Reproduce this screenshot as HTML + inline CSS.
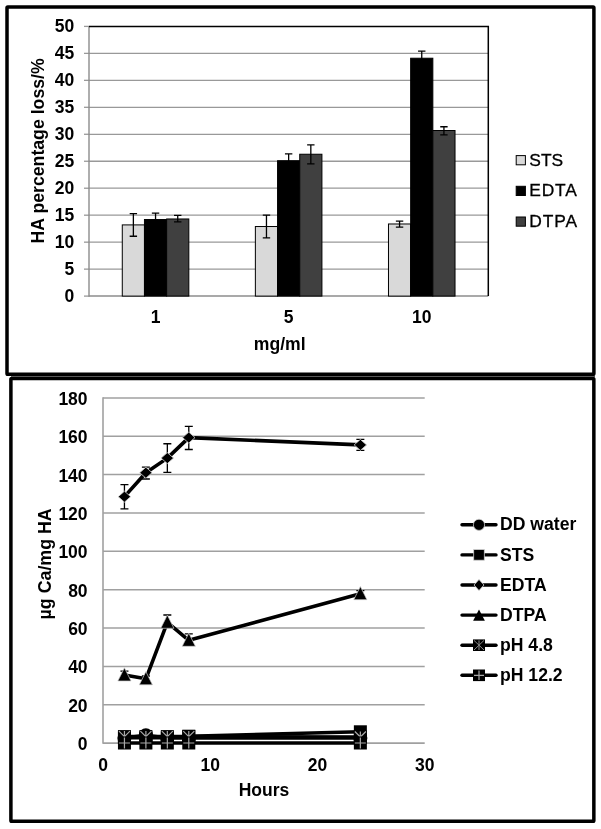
<!DOCTYPE html><html><head><meta charset="utf-8"><style>html,body{margin:0;padding:0;background:#fff;width:601px;height:829px;overflow:hidden}svg{display:block;filter:grayscale(1)}text{font-family:"Liberation Sans", sans-serif}</style></head><body>
<svg width="601" height="829" viewBox="0 0 601 829">
<rect width="601" height="829" fill="#fff"/>
<line x1="89.0" y1="269.13" x2="488.3" y2="269.13" stroke="#999999" stroke-width="1.3"/>
<line x1="89.0" y1="242.16" x2="488.3" y2="242.16" stroke="#999999" stroke-width="1.3"/>
<line x1="89.0" y1="215.19" x2="488.3" y2="215.19" stroke="#999999" stroke-width="1.3"/>
<line x1="89.0" y1="188.22" x2="488.3" y2="188.22" stroke="#999999" stroke-width="1.3"/>
<line x1="89.0" y1="161.25" x2="488.3" y2="161.25" stroke="#999999" stroke-width="1.3"/>
<line x1="89.0" y1="134.28" x2="488.3" y2="134.28" stroke="#999999" stroke-width="1.3"/>
<line x1="89.0" y1="107.31" x2="488.3" y2="107.31" stroke="#999999" stroke-width="1.3"/>
<line x1="89.0" y1="80.34" x2="488.3" y2="80.34" stroke="#999999" stroke-width="1.3"/>
<line x1="89.0" y1="53.37" x2="488.3" y2="53.37" stroke="#999999" stroke-width="1.3"/>
<line x1="84" y1="296.10" x2="89.0" y2="296.10" stroke="#999999" stroke-width="1.3"/>
<line x1="84" y1="269.13" x2="89.0" y2="269.13" stroke="#999999" stroke-width="1.3"/>
<line x1="84" y1="242.16" x2="89.0" y2="242.16" stroke="#999999" stroke-width="1.3"/>
<line x1="84" y1="215.19" x2="89.0" y2="215.19" stroke="#999999" stroke-width="1.3"/>
<line x1="84" y1="188.22" x2="89.0" y2="188.22" stroke="#999999" stroke-width="1.3"/>
<line x1="84" y1="161.25" x2="89.0" y2="161.25" stroke="#999999" stroke-width="1.3"/>
<line x1="84" y1="134.28" x2="89.0" y2="134.28" stroke="#999999" stroke-width="1.3"/>
<line x1="84" y1="107.31" x2="89.0" y2="107.31" stroke="#999999" stroke-width="1.3"/>
<line x1="84" y1="80.34" x2="89.0" y2="80.34" stroke="#999999" stroke-width="1.3"/>
<line x1="84" y1="53.37" x2="89.0" y2="53.37" stroke="#999999" stroke-width="1.3"/>
<line x1="84" y1="26.40" x2="89.0" y2="26.40" stroke="#999999" stroke-width="1.3"/>
<line x1="89.0" y1="26.40" x2="89.0" y2="296.70" stroke="#8c8c8c" stroke-width="1.4"/>
<line x1="89.0" y1="296.10" x2="488.3" y2="296.10" stroke="#8c8c8c" stroke-width="1.5"/>
<polyline points="89.0,26.40 488.3,26.40 488.3,296.10" fill="none" stroke="#000" stroke-width="1.5"/>
<rect x="122.28" y="224.90" width="22.18" height="71.20" fill="#d9d9d9" stroke="#000" stroke-width="1"/>
<rect x="144.46" y="219.51" width="22.18" height="76.59" fill="#000" stroke="#000" stroke-width="1"/>
<rect x="166.64" y="218.97" width="22.18" height="77.13" fill="#404040" stroke="#000" stroke-width="1"/>
<path d="M133.37 213.57V236.23M129.67 213.57H137.07M129.67 236.23H137.07" stroke="#000" stroke-width="1.3" fill="none"/>
<path d="M155.55 213.03V225.98M151.85 213.03H159.25M151.85 225.98H159.25" stroke="#000" stroke-width="1.3" fill="none"/>
<path d="M177.73 215.41V221.88M174.03 215.41H181.43M174.03 221.88H181.43" stroke="#000" stroke-width="1.3" fill="none"/>
<rect x="255.37" y="226.52" width="22.18" height="69.58" fill="#d9d9d9" stroke="#000" stroke-width="1"/>
<rect x="277.56" y="160.71" width="22.18" height="135.39" fill="#000" stroke="#000" stroke-width="1"/>
<rect x="299.74" y="154.24" width="22.18" height="141.86" fill="#404040" stroke="#000" stroke-width="1"/>
<path d="M266.47 215.19V237.84M262.77 215.19H270.17M262.77 237.84H270.17" stroke="#000" stroke-width="1.3" fill="none"/>
<path d="M288.65 153.97V167.45M284.95 153.97H292.35M284.95 167.45H292.35" stroke="#000" stroke-width="1.3" fill="none"/>
<path d="M310.83 144.80V163.95M307.13 144.80H314.53M307.13 163.95H314.53" stroke="#000" stroke-width="1.3" fill="none"/>
<rect x="388.48" y="223.98" width="22.18" height="72.12" fill="#d9d9d9" stroke="#000" stroke-width="1"/>
<rect x="410.66" y="58.22" width="22.18" height="237.88" fill="#000" stroke="#000" stroke-width="1"/>
<rect x="432.84" y="130.50" width="22.18" height="165.60" fill="#404040" stroke="#000" stroke-width="1"/>
<path d="M399.57 221.12V227.06M395.87 221.12H403.27M395.87 227.06H403.27" stroke="#000" stroke-width="1.3" fill="none"/>
<path d="M421.75 51.21V65.24M418.05 51.21H425.45M418.05 65.24H425.45" stroke="#000" stroke-width="1.3" fill="none"/>
<path d="M443.93 126.73V134.82M440.23 126.73H447.63M440.23 134.82H447.63" stroke="#000" stroke-width="1.3" fill="none"/>
<text x="74.2" y="301.80" font-size="17.5" font-weight="bold" text-anchor="end">0</text>
<text x="74.2" y="274.83" font-size="17.5" font-weight="bold" text-anchor="end">5</text>
<text x="74.2" y="247.86" font-size="17.5" font-weight="bold" text-anchor="end">10</text>
<text x="74.2" y="220.89" font-size="17.5" font-weight="bold" text-anchor="end">15</text>
<text x="74.2" y="193.92" font-size="17.5" font-weight="bold" text-anchor="end">20</text>
<text x="74.2" y="166.95" font-size="17.5" font-weight="bold" text-anchor="end">25</text>
<text x="74.2" y="139.98" font-size="17.5" font-weight="bold" text-anchor="end">30</text>
<text x="74.2" y="113.01" font-size="17.5" font-weight="bold" text-anchor="end">35</text>
<text x="74.2" y="86.04" font-size="17.5" font-weight="bold" text-anchor="end">40</text>
<text x="74.2" y="59.07" font-size="17.5" font-weight="bold" text-anchor="end">45</text>
<text x="74.2" y="32.10" font-size="17.5" font-weight="bold" text-anchor="end">50</text>
<text x="155.55" y="322.7" font-size="17.5" font-weight="bold" text-anchor="middle">1</text>
<text x="288.65" y="322.7" font-size="17.5" font-weight="bold" text-anchor="middle">5</text>
<text x="421.75" y="322.7" font-size="17.5" font-weight="bold" text-anchor="middle">10</text>
<text x="279.75" y="350.4" font-size="17.6" font-weight="bold" text-anchor="middle">mg/ml</text>
<text transform="translate(43.8 150.85) rotate(-90)" font-size="17.7" font-weight="bold" text-anchor="middle">HA percentage loss/%</text>
<rect x="516.2" y="155.60" width="9.2" height="9.2" fill="#d9d9d9" stroke="#000" stroke-width="1"/>
<text x="529.3" y="165.70" font-size="17.4" letter-spacing="0" stroke="#000" stroke-width="0.3">STS</text>
<rect x="516.2" y="186.30" width="9.2" height="9.2" fill="#000" stroke="#000" stroke-width="1"/>
<text x="529.3" y="196.40" font-size="17.4" letter-spacing="0.8" stroke="#000" stroke-width="0.3">EDTA</text>
<rect x="516.2" y="217.00" width="9.2" height="9.2" fill="#404040" stroke="#000" stroke-width="1"/>
<text x="529.3" y="227.10" font-size="17.4" letter-spacing="0.9" stroke="#000" stroke-width="0.3">DTPA</text>
<line x1="103.0" y1="704.74" x2="424.7" y2="704.74" stroke="#a0a0a0" stroke-width="1.5"/>
<line x1="103.0" y1="666.39" x2="424.7" y2="666.39" stroke="#a0a0a0" stroke-width="1.5"/>
<line x1="103.0" y1="628.03" x2="424.7" y2="628.03" stroke="#a0a0a0" stroke-width="1.5"/>
<line x1="103.0" y1="589.68" x2="424.7" y2="589.68" stroke="#a0a0a0" stroke-width="1.5"/>
<line x1="103.0" y1="551.32" x2="424.7" y2="551.32" stroke="#a0a0a0" stroke-width="1.5"/>
<line x1="103.0" y1="512.97" x2="424.7" y2="512.97" stroke="#a0a0a0" stroke-width="1.5"/>
<line x1="103.0" y1="474.61" x2="424.7" y2="474.61" stroke="#a0a0a0" stroke-width="1.5"/>
<line x1="103.0" y1="436.26" x2="424.7" y2="436.26" stroke="#a0a0a0" stroke-width="1.5"/>
<line x1="103.0" y1="397.90" x2="424.7" y2="397.90" stroke="#a0a0a0" stroke-width="1.5"/>
<line x1="103.0" y1="397.30" x2="103.0" y2="743.70" stroke="#a0a0a0" stroke-width="1.6"/>
<line x1="103.0" y1="743.10" x2="424.7" y2="743.10" stroke="#a0a0a0" stroke-width="1.6"/>
<text x="87.6" y="750.10" font-size="17.5" font-weight="bold" text-anchor="end">0</text>
<text x="87.6" y="711.74" font-size="17.5" font-weight="bold" text-anchor="end">20</text>
<text x="87.6" y="673.39" font-size="17.5" font-weight="bold" text-anchor="end">40</text>
<text x="87.6" y="635.03" font-size="17.5" font-weight="bold" text-anchor="end">60</text>
<text x="87.6" y="596.68" font-size="17.5" font-weight="bold" text-anchor="end">80</text>
<text x="87.6" y="558.32" font-size="17.5" font-weight="bold" text-anchor="end">100</text>
<text x="87.6" y="519.97" font-size="17.5" font-weight="bold" text-anchor="end">120</text>
<text x="87.6" y="481.61" font-size="17.5" font-weight="bold" text-anchor="end">140</text>
<text x="87.6" y="443.26" font-size="17.5" font-weight="bold" text-anchor="end">160</text>
<text x="87.6" y="404.90" font-size="17.5" font-weight="bold" text-anchor="end">180</text>
<text x="103.00" y="770.5" font-size="17.5" font-weight="bold" text-anchor="middle">0</text>
<text x="210.23" y="770.5" font-size="17.5" font-weight="bold" text-anchor="middle">10</text>
<text x="317.47" y="770.5" font-size="17.5" font-weight="bold" text-anchor="middle">20</text>
<text x="424.70" y="770.5" font-size="17.5" font-weight="bold" text-anchor="middle">30</text>
<text x="264" y="795.5" font-size="17.5" font-weight="bold" text-anchor="middle">Hours</text>
<text transform="translate(51.2 563.9) rotate(-90)" font-size="17.8" font-weight="bold" text-anchor="middle">µg Ca/mg HA</text>
<polyline points="124.45,737.92 145.89,735.24 167.34,737.92 188.79,737.92 360.36,737.92" fill="none" stroke="#000" stroke-width="3.6" stroke-linejoin="round"/>
<circle cx="124.45" cy="737.92" r="7.0" fill="#000"/>
<circle cx="145.89" cy="735.24" r="7.0" fill="#000"/>
<circle cx="167.34" cy="737.92" r="7.0" fill="#000"/>
<circle cx="188.79" cy="737.92" r="7.0" fill="#000"/>
<circle cx="360.36" cy="737.92" r="7.0" fill="#000"/>
<polyline points="124.45,737.73 145.89,737.73 167.34,737.73 188.79,736.20 360.36,731.79" fill="none" stroke="#000" stroke-width="3.6" stroke-linejoin="round"/>
<rect x="117.95" y="731.23" width="13.0" height="13.0" fill="#000"/>
<rect x="139.39" y="731.23" width="13.0" height="13.0" fill="#000"/>
<rect x="160.84" y="731.23" width="13.0" height="13.0" fill="#000"/>
<rect x="182.29" y="729.70" width="13.0" height="13.0" fill="#000"/>
<rect x="353.86" y="725.29" width="13.0" height="13.0" fill="#000"/>
<polyline points="124.45,496.67 145.89,472.69 167.34,458.12 188.79,437.60 360.36,444.89" fill="none" stroke="#000" stroke-width="3.6" stroke-linejoin="round"/>
<path d="M124.45 484.58V508.94M120.45 484.58H128.45M120.45 508.94H128.45" stroke="#000" stroke-width="1.3" fill="none"/>
<path d="M145.89 467.13V479.02M141.89 467.13H149.89M141.89 479.02H149.89" stroke="#000" stroke-width="1.3" fill="none"/>
<path d="M167.34 443.73V472.31M163.34 443.73H171.34M163.34 472.31H171.34" stroke="#000" stroke-width="1.3" fill="none"/>
<path d="M188.79 426.28V449.49M184.79 426.28H192.79M184.79 449.49H192.79" stroke="#000" stroke-width="1.3" fill="none"/>
<path d="M360.36 439.32V450.45M356.36 439.32H364.36M356.36 450.45H364.36" stroke="#000" stroke-width="1.3" fill="none"/>
<path d="M124.45 491.17L130.65 496.67L124.45 502.17L118.25 496.67Z" fill="#000" stroke="#d8d8d8" stroke-width="0.8"/>
<path d="M145.89 467.19L152.09 472.69L145.89 478.19L139.69 472.69Z" fill="#000" stroke="#d8d8d8" stroke-width="0.8"/>
<path d="M167.34 452.62L173.54 458.12L167.34 463.62L161.14 458.12Z" fill="#000" stroke="#d8d8d8" stroke-width="0.8"/>
<path d="M188.79 432.10L194.99 437.60L188.79 443.10L182.59 437.60Z" fill="#000" stroke="#d8d8d8" stroke-width="0.8"/>
<path d="M360.36 439.39L366.56 444.89L360.36 450.39L354.16 444.89Z" fill="#000" stroke="#d8d8d8" stroke-width="0.8"/>
<polyline points="124.45,675.02 145.89,678.85 167.34,622.28 188.79,640.31 360.36,593.71" fill="none" stroke="#000" stroke-width="3.6" stroke-linejoin="round"/>
<path d="M124.45 671.18V677.90M120.45 671.18H128.45M120.45 677.90H128.45" stroke="#000" stroke-width="1.3" fill="none"/>
<path d="M145.89 675.98V680.77M141.89 675.98H149.89M141.89 680.77H149.89" stroke="#000" stroke-width="1.3" fill="none"/>
<path d="M167.34 614.99V626.12M163.34 614.99H171.34M163.34 626.12H171.34" stroke="#000" stroke-width="1.3" fill="none"/>
<path d="M188.79 633.79V642.42M184.79 633.79H192.79M184.79 642.42H192.79" stroke="#000" stroke-width="1.3" fill="none"/>
<path d="M360.36 590.64V595.43M356.36 590.64H364.36M356.36 595.43H364.36" stroke="#000" stroke-width="1.3" fill="none"/>
<path d="M124.45 667.82L131.05 681.02L117.85 681.02Z" fill="#000" stroke="#d0d0d0" stroke-width="0.7" stroke-linejoin="round"/>
<path d="M145.89 671.65L152.49 684.85L139.29 684.85Z" fill="#000" stroke="#d0d0d0" stroke-width="0.7" stroke-linejoin="round"/>
<path d="M167.34 615.08L173.94 628.28L160.74 628.28Z" fill="#000" stroke="#d0d0d0" stroke-width="0.7" stroke-linejoin="round"/>
<path d="M188.79 633.11L195.39 646.31L182.19 646.31Z" fill="#000" stroke="#d0d0d0" stroke-width="0.7" stroke-linejoin="round"/>
<path d="M360.36 586.51L366.96 599.71L353.76 599.71Z" fill="#000" stroke="#d0d0d0" stroke-width="0.7" stroke-linejoin="round"/>
<polyline points="124.45,736.58 145.89,736.58 167.34,736.58 188.79,736.58 360.36,736.96" fill="none" stroke="#000" stroke-width="3.6" stroke-linejoin="round"/>
<rect x="117.95" y="730.08" width="13.0" height="13.0" fill="#000"/><path d="M118.95 731.08L129.95 742.08M129.95 731.08L118.95 742.08M124.45 731.08V742.08" stroke="#a8a8a8" stroke-width="1.2"/>
<rect x="139.39" y="730.08" width="13.0" height="13.0" fill="#000"/><path d="M140.39 731.08L151.39 742.08M151.39 731.08L140.39 742.08M145.89 731.08V742.08" stroke="#a8a8a8" stroke-width="1.2"/>
<rect x="160.84" y="730.08" width="13.0" height="13.0" fill="#000"/><path d="M161.84 731.08L172.84 742.08M172.84 731.08L161.84 742.08M167.34 731.08V742.08" stroke="#a8a8a8" stroke-width="1.2"/>
<rect x="182.29" y="730.08" width="13.0" height="13.0" fill="#000"/><path d="M183.29 731.08L194.29 742.08M194.29 731.08L183.29 742.08M188.79 731.08V742.08" stroke="#a8a8a8" stroke-width="1.2"/>
<rect x="353.86" y="730.46" width="13.0" height="13.0" fill="#000"/><path d="M354.86 731.46L365.86 742.46M365.86 731.46L354.86 742.46M360.36 731.46V742.46" stroke="#a8a8a8" stroke-width="1.2"/>
<polyline points="124.45,743.00 145.89,743.00 167.34,743.00 188.79,743.00 360.36,743.00" fill="none" stroke="#000" stroke-width="3.6" stroke-linejoin="round"/>
<rect x="117.95" y="736.50" width="13.0" height="13.0" fill="#000"/><path d="M118.95 743.00H129.95M124.45 737.50V748.50" stroke="#a8a8a8" stroke-width="1.2"/>
<rect x="139.39" y="736.50" width="13.0" height="13.0" fill="#000"/><path d="M140.39 743.00H151.39M145.89 737.50V748.50" stroke="#a8a8a8" stroke-width="1.2"/>
<rect x="160.84" y="736.50" width="13.0" height="13.0" fill="#000"/><path d="M161.84 743.00H172.84M167.34 737.50V748.50" stroke="#a8a8a8" stroke-width="1.2"/>
<rect x="182.29" y="736.50" width="13.0" height="13.0" fill="#000"/><path d="M183.29 743.00H194.29M188.79 737.50V748.50" stroke="#a8a8a8" stroke-width="1.2"/>
<rect x="353.86" y="736.50" width="13.0" height="13.0" fill="#000"/><path d="M354.86 743.00H365.86M360.36 737.50V748.50" stroke="#a8a8a8" stroke-width="1.2"/>
<line x1="462" y1="524.80" x2="496" y2="524.80" stroke="#000" stroke-width="3.4" stroke-linecap="round"/>
<circle cx="479.00" cy="524.80" r="5.6" fill="#000" stroke="#cfcfcf" stroke-width="0.8"/>
<text x="500" y="530.40" font-size="17.6" font-weight="bold">DD water</text>
<line x1="462" y1="554.90" x2="496" y2="554.90" stroke="#000" stroke-width="3.4" stroke-linecap="round"/>
<rect x="473.70" y="549.60" width="10.6" height="10.6" fill="#000" stroke="#cfcfcf" stroke-width="0.8"/>
<text x="500" y="560.50" font-size="17.6" font-weight="bold">STS</text>
<line x1="462" y1="585.00" x2="496" y2="585.00" stroke="#000" stroke-width="3.4" stroke-linecap="round"/>
<path d="M479.00 579.40L484.00 585.00L479.00 590.60L474.00 585.00Z" fill="#000" stroke="#d8d8d8" stroke-width="0.8"/>
<text x="500" y="590.60" font-size="17.6" font-weight="bold">EDTA</text>
<line x1="462" y1="615.10" x2="496" y2="615.10" stroke="#000" stroke-width="3.4" stroke-linecap="round"/>
<path d="M479.00 609.50L484.90 620.70L473.10 620.70Z" fill="#000"/>
<text x="500" y="620.70" font-size="17.6" font-weight="bold">DTPA</text>
<line x1="462" y1="645.20" x2="496" y2="645.20" stroke="#000" stroke-width="3.4" stroke-linecap="round"/>
<rect x="473.00" y="639.40" width="12.0" height="11.6" fill="#000"/><path d="M474.00 640.40L484.00 650.00M484.00 640.40L474.00 650.00M479.00 640.40V650.00" stroke="#8a8a8a" stroke-width="1.0"/>
<text x="500" y="650.80" font-size="17.6" font-weight="bold">pH 4.8</text>
<line x1="462" y1="675.30" x2="496" y2="675.30" stroke="#000" stroke-width="3.4" stroke-linecap="round"/>
<rect x="473.00" y="669.50" width="12.0" height="11.6" fill="#000"/><path d="M474.00 675.30H484.00M479.00 670.50V680.10" stroke="#a8a8a8" stroke-width="1.2"/>
<text x="500" y="680.90" font-size="17.6" font-weight="bold">pH 12.2</text>
<rect x="7" y="7" width="586.9" height="367.35" fill="none" stroke="#000" stroke-width="3.5" rx="0.8"/>
<rect x="10.9" y="378.45" width="582.95" height="442.9" fill="none" stroke="#000" stroke-width="3.5" rx="0.8"/>
<line x1="11" y1="376.5" x2="595" y2="376.5" stroke="#5a5a5a" stroke-width="1"/>
</svg></body></html>
